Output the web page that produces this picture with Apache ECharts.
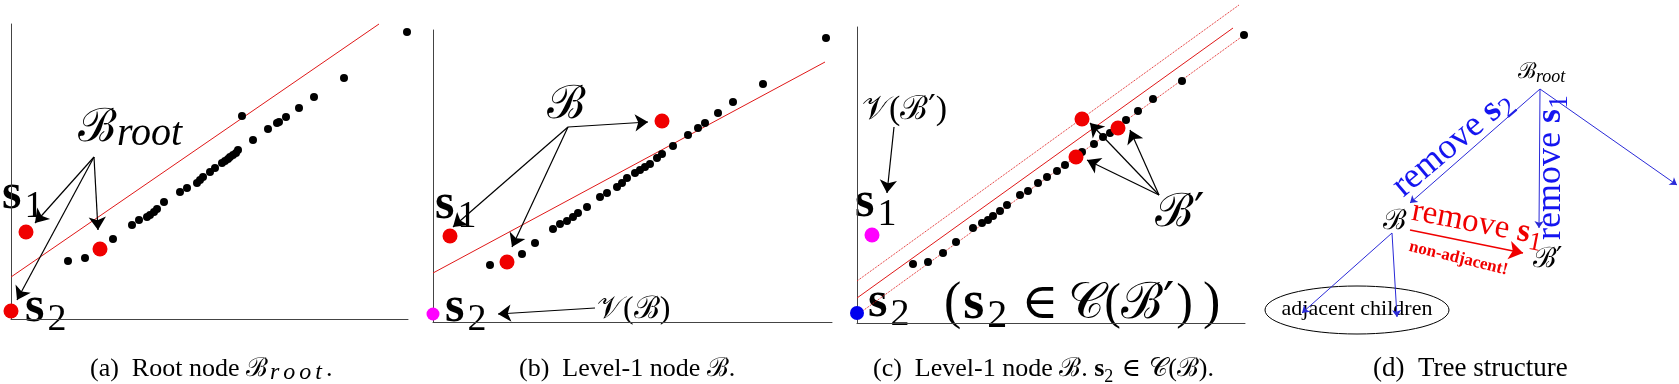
<!DOCTYPE html>
<html>
<head>
<meta charset="utf-8">
<script src="https://cdn.jsdelivr.net/npm/echarts@6/dist/echarts.min.js"></script>
<style>
html,body{margin:0;padding:0;background:#fff;}
#main{width:1679px;height:384px;}
</style>
</head>
<body>
<div id="main"></div>
<script>
// panel (a) root node
var aBlack = [[57,58],[74,61],[102,80],[121,94],[128,99],[136,102],[139,104],[143,107],[146,110],[153,117],
    [169,127],[176,131],[186,136],[189,139],[192,142],[199,147],[204,151],[211,156],[214,158],[217,160],
    [219,162],[222,164],[225,166],[227,169],[231,203],[242,179],[257,190],[266,196],[268,197],[275,202],
    [288,211],[303,222],[333,241],[396,287]];
var aRed = [[15,87],[89,70],[0,8]];
var aFit = [[0,42],[368,295]];
var aArrowFrom = [83,162];
var aArrowTo = [[24,96],[87,89],[6,19]];

// panel (b) level-1 node
var bBlack = [[57,57],[89,68],[102,79],[120,93],[127,98],[134,101],[140,105],[145,109],[154,115],[167,125],
    [174,129],[184,135],[189,139],[194,144],[202,149],[207,152],[212,155],[217,158],[224,164],[229,168],
    [240,176],[255,187],[265,194],[272,199],[285,209],[300,220],[330,238],[393,284]];
var bRed = [[17,86],[74,60],[229,201]];
var bMagenta = [[0,8]];
var bFit = [[0,49],[392,260]];
var bArrowFrom = [135,195];
var bArrowTo = [[215,200],[20,95],[79,75]];
var bVArrow = [[162,14],[65,8]];

// panel (c) level-1 node, s2 in C(B)
var cBlack = [[56,59],[71,61],[86,70],[99,81],[116,95],[125,100],[131,103],[136,107],[143,112],[150,118],
    [163,128],[171,132],[181,140],[190,146],[200,152],[208,158],[225,171],[237,179],[246,186],[253,190],
    [269,203],[281,212],[296,224],[325,242],[387,288]];
var cRed = [[225,204],[261,195],[219,166]];
var cMagenta = [[15,88]];
var cBlue = [[0,10]];
var cFit = [[0,25],[376,295]];
var cUpper = [[0,42],[382,318]];
var cLower = [[0,8],[383,285]];
var cVArrow = [[37,196],[30,130]];
var cArrowFrom = [302,128];
var cArrowTo = [[233,200],[273,193],[230,163]];

// panel (d) tree
var treeBlue = [[[290,251],[160,137]], [[290,251],[289,112]], [[290,251],[427,155]],
    [[142,107],[52,27]], [[142,107],[147,23]]];
var treeRed = [[[160,110],[273,87]]];

var SERIF = '"Liberation Serif", "Times New Roman", Tinos, "DejaVu Serif", serif';
var CAL = '"DejaVu Serif"';
var BLUE = '#1515f0';
var RED = '#f00000';

var mctx = document.createElement('canvas').getContext('2d');
// s = size, fam, w = bold, i = italic, c = colour, dy = baseline shift, gap = extra space before
function run(x, y, segs, rot) {
    var kids = [];
    var cx = 0;
    segs.forEach(function(s) {
        cx += s.gap || 0;
        var fam = s.fam || SERIF;
        mctx.font = (s.i ? 'italic ' : '') + (s.w ? 'bold ' : '') + s.s + 'px ' + fam;
        kids.push({
            type: 'text',
            x: cx,
            y: (s.dy || 0) - 0.34 * s.s,
            style: {
                text: s.t, fill: s.c || '#000',
                fontFamily: fam, fontSize: s.s,
                fontWeight: s.w ? 'bold' : 'normal', fontStyle: s.i ? 'italic' : 'normal',
                align: 'left', verticalAlign: 'middle'
            }
        });
        cx += mctx.measureText(s.t).width;
    });
    return {type: 'group', x: x, y: y, rotation: rot || 0, silent: true, children: kids};
}
function sub(x, y, num, big, small, drop, gap, color) {
    return run(x, y, [
        {t: 's', s: big, w: 1, c: color},
        {t: num, s: small, dy: drop, gap: gap, c: color}
    ]);
}

function axisX(i, max, show) {
    return {
        gridIndex: i, type: 'value', min: 0, max: max, show: show,
        axisLine: {show: true, onZero: false, lineStyle: {color: '#444', width: 1}},
        axisTick: {show: false}, axisLabel: {show: false}, splitLine: {show: false}
    };
}
function dots(i, data, color, size, z) {
    return {type: 'scatter', xAxisIndex: i, yAxisIndex: i, data: data, symbolSize: size,
        itemStyle: {color: color, opacity: 1}, z: z, clip: false, silent: true};
}
function fit(i, data, type) {
    return {type: 'line', xAxisIndex: i, yAxisIndex: i, data: data, showSymbol: false, clip: false,
        lineStyle: {color: '#e01818', width: 1, type: type || 'solid'}, z: 2, silent: true};
}
function arrows(i, from, tos, color, width, size) {
    return {type: 'lines', coordinateSystem: 'cartesian2d', xAxisIndex: i, yAxisIndex: i,
        symbol: ['none', 'arrow'], symbolSize: size, silent: true, z: 6,
        lineStyle: {color: color, width: width, opacity: 1, curveness: 0},
        data: tos.map(function(t) { return {coords: [from, t]}; })};
}
function edges(i, list, color, width, size) {
    return {type: 'lines', coordinateSystem: 'cartesian2d', xAxisIndex: i, yAxisIndex: i,
        symbol: ['none', 'arrow'], symbolSize: size, silent: true, z: 6,
        lineStyle: {color: color, width: width, opacity: 1, curveness: 0},
        data: list.map(function(e) { return {coords: e}; })};
}

var chart = echarts.init(document.getElementById('main'));
chart.setOption({
    backgroundColor: '#fff',
    animation: false,
    grid: [
        {left: 11, top: 24, width: 397, height: 295},
        {left: 433, top: 30, width: 399, height: 292},
        {left: 857, top: 27, width: 388, height: 296},
        {left: 1250, top: 40, width: 429, height: 300}
    ],
    xAxis: [axisX(0, 397, true), axisX(1, 399, true), axisX(2, 388, true), axisX(3, 429, false)],
    yAxis: [axisX(0, 295, true), axisX(1, 292, true), axisX(2, 296, true), axisX(3, 300, false)],
    series: [
        fit(0, aFit),
        dots(0, aBlack, '#000', 8, 3),
        dots(0, aRed, RED, 15, 4),
        arrows(0, aArrowFrom, aArrowTo, '#000', 1.2, 13),

        fit(1, bFit),
        dots(1, bBlack, '#000', 8, 3),
        dots(1, bRed, RED, 15, 4),
        dots(1, bMagenta, '#ff00ff', 13, 4),
        arrows(1, bArrowFrom, bArrowTo, '#000', 1.2, 13),
        arrows(1, bVArrow[0], [bVArrow[1]], '#000', 1.2, 13),

        fit(2, cFit),
        fit(2, cUpper, 'dotted'),
        fit(2, cLower, 'dotted'),
        dots(2, cBlack, '#000', 8, 3),
        dots(2, cRed, RED, 15, 4),
        dots(2, cMagenta, '#ff00ff', 15, 4),
        dots(2, cBlue, '#0000ee', 14, 4),
        arrows(2, cVArrow[0], [cVArrow[1]], '#000', 1.2, 13),
        arrows(2, cArrowFrom, cArrowTo, '#000', 1.2, 13),

        edges(3, treeBlue, '#2a2ad8', 1, 7),
        edges(3, treeRed, RED, 1.6, 14)
    ],
    graphic: [
        // (a)
        run(78, 145, [{t: 'ℬ', s: 46, fam: CAL}, {t: 'root', s: 40, i: 1, dy: 3}]),
        sub(2, 212, '1', 50, 38, 8, 3),
        sub(25, 325, '2', 50, 38, 8, 3),
        // (b)
        run(547, 122, [{t: 'ℬ', s: 46, fam: CAL}]),
        sub(435, 222, '1', 50, 38, 8, 3),
        sub(445, 325, '2', 50, 38, 8, 3),
        run(597, 320, [{t: '𝒱', s: 31, fam: CAL}, {t: '(', s: 32}, {t: 'ℬ', s: 31, fam: CAL}, {t: ')', s: 32}]),
        // (c)
        run(862, 122, [{t: '𝒱', s: 33, fam: CAL}, {t: '(', s: 34}, {t: 'ℬ′', s: 33, fam: CAL}, {t: ')', s: 34}]),
        sub(855, 220, '1', 50, 38, 8, 3),
        sub(868, 320, '2', 50, 38, 8, 3),
        run(944, 322, [
            {t: '(', s: 52},
            {t: 's', s: 54, w: 1, gap: 2},
            {t: '2', s: 40, dy: 8, gap: 3},
            {t: '∈', s: 50, fam: CAL, gap: 14},
            {t: '𝒞', s: 50, fam: CAL, gap: 10},
            {t: '(', s: 50},
            {t: 'ℬ′', s: 50, fam: CAL},
            {t: ')', s: 50, gap: 2},
            {t: ')', s: 52, gap: 10}
        ]),
        run(1155, 230, [{t: 'ℬ′', s: 46, fam: CAL}]),
        // (d)
        run(1518, 80, [{t: 'ℬ', s: 22, fam: CAL}, {t: 'root', s: 18, i: 1, dy: 3}]),
        run(1383, 231, [{t: 'ℬ', s: 28, fam: CAL}]),
        run(1533, 269, [{t: 'ℬ′', s: 28, fam: CAL}]),
        run(1405, 200, [{t: 'remove ', s: 36, c: BLUE}, {t: 's', s: 36, w: 1, c: BLUE}, {t: '2', s: 28, c: BLUE, dy: 6}], 0.70),
        run(1563, 240, [{t: 'remove ', s: 36, c: BLUE}, {t: 's', s: 36, w: 1, c: BLUE}, {t: '1', s: 28, c: BLUE, dy: 6}], Math.PI / 2),
        run(1410, 222, [{t: 'remove ', s: 33, c: RED}, {t: 's', s: 33, w: 1, c: RED}, {t: '1', s: 26, c: RED, dy: 6}], -0.19),
        run(1408, 252, [{t: 'non-adjacent!', s: 17, w: 1, c: RED}], -0.24),
        {type: 'ellipse', shape: {cx: 1357, cy: 310, rx: 92, ry: 24}, style: {fill: 'none', stroke: '#000', lineWidth: 1}, silent: true},
        {type: 'text', x: 1357, y: 309, silent: true, style: {text: 'adjacent children', fontFamily: SERIF, fontSize: 22, fill: '#000',
            align: 'center', verticalAlign: 'middle'}},
        // captions
        run(90, 378, [{t: '(a)  Root node ', s: 26}, {t: 'ℬ', s: 26, fam: CAL},
            {t: 'r', s: 24, i: 1, dy: 3, gap: 2}, {t: 'o', s: 24, i: 1, dy: 3, gap: 4},
            {t: 'o', s: 24, i: 1, dy: 3, gap: 4}, {t: 't', s: 24, i: 1, dy: 3, gap: 4},
            {t: '.', s: 26, gap: 4}]),
        run(519, 378, [{t: '(b)  Level-1 node ', s: 26}, {t: 'ℬ', s: 26, fam: CAL}, {t: '.', s: 26}]),
        run(873, 378, [{t: '(c)  Level-1 node ', s: 26}, {t: 'ℬ', s: 26, fam: CAL}, {t: '. ', s: 26},
            {t: 's', s: 26, w: 1}, {t: '2', s: 18, dy: 5}, {t: ' ∈ ', s: 26, fam: CAL},
            {t: '𝒞', s: 26, fam: CAL}, {t: '(', s: 26}, {t: 'ℬ', s: 26, fam: CAL}, {t: ').', s: 26}]),
        run(1373, 378, [{t: '(d)  Tree structure', s: 27}])
    ]
});
</script>
</body>
</html>
